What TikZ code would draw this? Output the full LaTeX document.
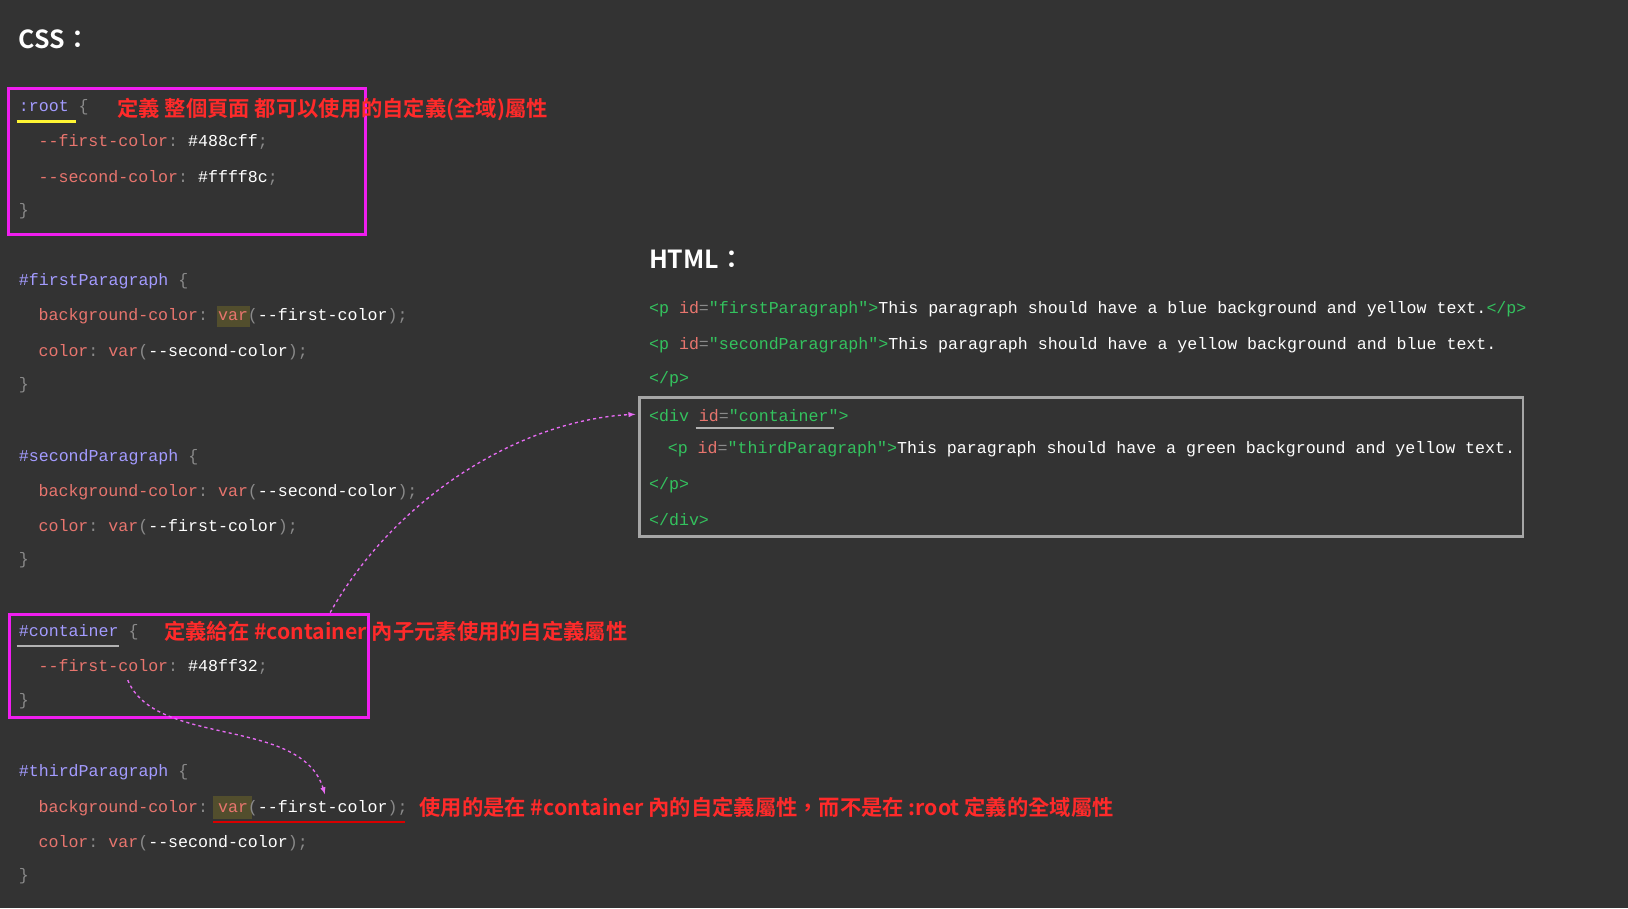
\documentclass[tikz,border=0pt]{standalone}
\usepackage{fontspec}
\usepackage{tikz}
\usetikzlibrary{positioning}
\setmonofont{Liberation Mono}
\newfontfamily\cjk{Noto Sans CJK TC}[BoldFont={* Bold}]
\definecolor{bg}{HTML}{333333}
\definecolor{sel}{HTML}{A39BFF}
\definecolor{prop}{HTML}{E8756E}
\definecolor{punct}{HTML}{8A8A8A}
\definecolor{str}{HTML}{33C25E}
\definecolor{mag}{HTML}{F01EF0}
\definecolor{arr}{HTML}{E66BF2}
\definecolor{note}{HTML}{FF2A2A}
\newcommand{\pn}[1]{\textcolor{punct}{#1}}
\newcommand{\pr}[1]{\textcolor{prop}{#1}}
\newcommand{\selc}[1]{\textcolor{sel}{#1}}
\newcommand{\st}[1]{\textcolor{str}{#1}}
\newcommand{\qt}{\textcolor{str}{\char"2033}}
\begin{document}
\begin{tikzpicture}[x=1pt, y=-1pt,
    code/.style={anchor=west, inner sep=0pt, text=white,
      font=\fontsize{16}{20}\selectfont\ttfamily},
    note/.style={anchor=west, inner sep=0pt, text=note,
      font=\fontsize{20.5}{24}\selectfont\cjk\bfseries},
    title/.style={anchor=west, inner sep=0pt, text=white,
      font=\fontsize{24}{28}\selectfont\cjk\bfseries},
    frame/.style={draw=mag, line width=2.5pt},
    link/.style={arr, dashed, line width=1.3pt, -latex}]
  \fill [bg] (0,0) rectangle (1568,875);
  \useasboundingbox (0,0) rectangle (1568,875);

  % CSS
  \node [title] (css) at (18,38) {CSS：};
  \fill [olive!45!black] (209,295) rectangle (241,315);
  \fill [olive!45!black] (205,767) rectangle (243,789);
  \node [code] (r1) at (18,103) {\selc{:root} \pn{\{}};
  \node [code] (r2) at (37,137) {\pr{-{}-first-color}\pn{:} \#488cff\pn{;}};
  \node [code] (r3) at (37,171) {\pr{-{}-second-color}\pn{:} \#ffff8c\pn{;}};
  \node [code] (r4) at (18,203) {\pn{\}}};
  \node [code] (f1) at (18,271) {\selc{\#firstParagraph} \pn{\{}};
  \node [code] (f2) at (37,305) {\pr{background-color}\pn{:} \pr{var}\pn{(}-{}-first-color\pn{);}};
  \node [code] (f3) at (37,339) {\pr{color}\pn{:} \pr{var}\pn{(}-{}-second-color\pn{);}};
  \node [code] (f4) at (18,371) {\pn{\}}};
  \node [code] (s1) at (18,440) {\selc{\#secondParagraph} \pn{\{}};
  \node [code] (s2) at (37,474) {\pr{background-color}\pn{:} \pr{var}\pn{(}-{}-second-color\pn{);}};
  \node [code] (s3) at (37,508) {\pr{color}\pn{:} \pr{var}\pn{(}-{}-first-color\pn{);}};
  \node [code] (s4) at (18,540) {\pn{\}}};
  \node [code] (c1) at (18,609) {\selc{\#container} \pn{\{}};
  \node [code] (c2) at (37,642) {\pr{-{}-first-color}\pn{:} \#48ff32\pn{;}};
  \node [code] (c3) at (18,675) {\pn{\}}};
  \node [code] (t1) at (18,744) {\selc{\#thirdParagraph} \pn{\{}};
  \node [code] (t2) at (37,778) {\pr{background-color}\pn{:} \pr{var}\pn{(}-{}-first-color\pn{);}};
  \node [code] (t3) at (37,812) {\pr{color}\pn{:} \pr{var}\pn{(}-{}-second-color\pn{);}};
  \node [code] (t4) at (18,844) {\pn{\}}};

  % frames and marks
  \draw [frame] (8,85) rectangle (352,226);
  \draw [frame] (9,592) rectangle (355,691);
  \draw [yellow!80!white, line width=2pt] (16,117) -- (73,117);
  \draw [gray!60, line width=2pt] (16,622) -- (115,622);
  \draw [red!85!black, line width=2pt] (205,792) -- (390,792);

  % notes
  \node [note] (n1) at (113,105) {定義 整個頁面 都可以使用的自定義(全域)屬性};
  \node [note] (n2) at (158,608) {定義給在 \#container 內子元素使用的自定義屬性};
  \node [note] (n3) at (404,778) {使用的是在 \#container 內的自定義屬性，而不是在 :root 定義的全域屬性};

  % HTML
  \node [title] (html) at (625,250) {HTML：};
  \node [code] (h1) at (625,298) {\st{<p} \pr{id}\pn{=}\qt\st{firstParagraph}\qt\st{>}This paragraph should have a blue background and yellow text.\st{</p>}};
  \node [code] (h2) at (625,332) {\st{<p} \pr{id}\pn{=}\qt\st{secondParagraph}\qt\st{>}This paragraph should have a yellow background and blue text.};
  \node [code] (h3) at (625,365) {\st{</p>}};
  \node [code] (h4) at (625,400) {\st{<div} \pr{id}\pn{=}\qt\st{container}\qt\st{>}};
  \node [code] (h5) at (643,433) {\st{<p} \pr{id}\pn{=}\qt\st{thirdParagraph}\qt\st{>}This paragraph should have a green background and yellow text.};
  \node [code] (h6) at (625,467) {\st{</p>}};
  \node [code] (h7) at (625,500) {\st{</div>}};
  \draw [gray!70, line width=2.5pt] (616,383) rectangle (1467,517);
  \draw [gray!60, line width=2pt] (670,412) -- (803,412);

  % links
  \coordinate (a1) at (318,590);
  \coordinate (a2) at (612,399);
  \coordinate (b1) at (123,655);
  \coordinate (b2) at (313,765);
  \draw [link] (a1) .. controls (380,480) and (500,405) .. (a2);
  \draw [link] (b1) .. controls (150,720) and (290,690) .. (b2);
\end{tikzpicture}
\end{document}
